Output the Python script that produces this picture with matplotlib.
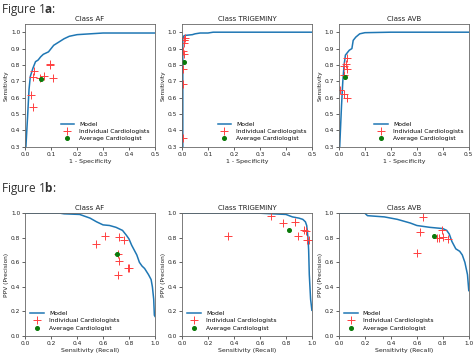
import matplotlib
matplotlib.use("Agg")
import matplotlib.pyplot as plt

# ---- data ----
classes = ["AF", "TRIGEMINY", "AVB"]

# ROC curves (1 - specificity, sensitivity)
roc_af_x = [0.0, 0.003, 0.01, 0.015, 0.02, 0.03, 0.04, 0.05, 0.06, 0.07, 0.09, 0.10, 0.11, 0.13, 0.15, 0.17, 0.20, 0.25, 0.30, 0.50]
roc_af_y = [0.25, 0.30, 0.50, 0.65, 0.73, 0.78, 0.82, 0.83, 0.85, 0.865, 0.88, 0.90, 0.92, 0.94, 0.96, 0.975, 0.985, 0.99, 0.995, 0.995]
roc_tri_x = [0.0, 0.003, 0.003, 0.006, 0.01, 0.04, 0.05, 0.07, 0.10, 0.12, 0.50]
roc_tri_y = [0.25, 0.30, 0.96, 0.975, 0.98, 0.985, 0.99, 0.995, 0.995, 1.0, 1.0]
roc_avb_x = [0.0, 0.003, 0.01, 0.015, 0.02, 0.025, 0.03, 0.04, 0.05, 0.055, 0.065, 0.08, 0.10, 0.20, 0.50]
roc_avb_y = [0.25, 0.30, 0.55, 0.70, 0.80, 0.86, 0.87, 0.89, 0.90, 0.95, 0.97, 0.99, 0.997, 1.0, 1.0]

# individual cardiologists, ROC space
card_af_fpr = [0.036, 0.032, 0.022, 0.031, 0.094, 0.097, 0.074, 0.109, 0.058]
card_af_sens = [0.766, 0.724, 0.614, 0.544, 0.805, 0.80, 0.73, 0.72, 0.72]
card_tri_fpr = [0.002, 0.003, 0.004, 0.006, 0.005, 0.008, 0.009, 0.007, 0.010]
card_tri_sens = [0.355, 0.685, 0.775, 0.865, 0.885, 0.935, 0.95, 0.955, 0.965]
card_avb_fpr = [0.033, 0.028, 0.019, 0.031, 0.019, 0.006, 0.018, 0.033]
card_avb_sens = [0.84, 0.804, 0.794, 0.773, 0.74, 0.65, 0.62, 0.596]

# average cardiologist, ROC space
avg_roc = {"AF": (0.062, 0.714), "TRIGEMINY": (0.006, 0.82), "AVB": (0.022, 0.729)}

# PR curves (recall, precision)
pr_af_x = [0.0, 0.27, 0.30, 0.42, 0.50, 0.55, 0.60, 0.65, 0.70, 0.75, 0.78, 0.80, 0.82, 0.84, 0.86, 0.88, 0.90, 0.92, 0.95, 0.97, 0.98, 0.99, 0.995, 1.0]
pr_af_y = [1.0, 1.0, 0.995, 0.99, 0.96, 0.93, 0.905, 0.90, 0.885, 0.86, 0.82, 0.79, 0.74, 0.70, 0.66, 0.60, 0.57, 0.55, 0.50, 0.46, 0.40, 0.30, 0.17, 0.16]
pr_tri_x = [0.0, 0.60, 0.70, 0.80, 0.85, 0.90, 0.93, 0.95, 0.96, 0.97, 0.975, 0.98, 0.985, 0.99, 1.0]
pr_tri_y = [1.0, 1.0, 0.995, 0.99, 0.97, 0.96, 0.95, 0.93, 0.90, 0.80, 0.70, 0.50, 0.40, 0.30, 0.21]
pr_avb_x = [0.0, 0.20, 0.22, 0.35, 0.45, 0.55, 0.60, 0.70, 0.80, 0.83, 0.85, 0.87, 0.90, 0.93, 0.95, 0.97, 0.99, 1.0]
pr_avb_y = [1.0, 1.0, 0.98, 0.97, 0.95, 0.92, 0.90, 0.885, 0.875, 0.86, 0.83, 0.77, 0.71, 0.69, 0.66, 0.60, 0.50, 0.37]

# individual cardiologists, PR space
card_af_rec = [0.544, 0.615, 0.72, 0.764, 0.713, 0.726, 0.797, 0.79, 0.718]
card_af_ppv = [0.75, 0.816, 0.81, 0.783, 0.67, 0.607, 0.558, 0.55, 0.496]
card_tri_rec = [0.356, 0.688, 0.778, 0.869, 0.894, 0.936, 0.959, 0.956, 0.974]
card_tri_ppv = [0.818, 0.976, 0.919, 0.927, 0.813, 0.867, 0.786, 0.856, 0.78]
card_avb_rec = [0.651, 0.626, 0.60, 0.79, 0.754, 0.774, 0.80, 0.841]
card_avb_ppv = [0.967, 0.846, 0.68, 0.867, 0.802, 0.80, 0.805, 0.79]

avg_pr = {"AF": (0.708, 0.67), "TRIGEMINY": (0.82, 0.862), "AVB": (0.731, 0.816)}

roc_curves = {"AF": (roc_af_x, roc_af_y), "TRIGEMINY": (roc_tri_x, roc_tri_y), "AVB": (roc_avb_x, roc_avb_y)}
roc_cards = {"AF": (card_af_fpr, card_af_sens), "TRIGEMINY": (card_tri_fpr, card_tri_sens), "AVB": (card_avb_fpr, card_avb_sens)}
pr_curves = {"AF": (pr_af_x, pr_af_y), "TRIGEMINY": (pr_tri_x, pr_tri_y), "AVB": (pr_avb_x, pr_avb_y)}
pr_cards = {"AF": (card_af_rec, card_af_ppv), "TRIGEMINY": (card_tri_rec, card_tri_ppv), "AVB": (card_avb_rec, card_avb_ppv)}

# ---- figure ----
plt.rcParams["font.family"] = ["DejaVu Sans"]
plt.rcParams["mathtext.fontset"] = "custom"
plt.rcParams["mathtext.rm"] = "Open Sans"
plt.rcParams["mathtext.bf"] = "Open Sans:bold"
fig = plt.figure(figsize=(4.74, 3.53), dpi=100)

lefts = [0.053, 0.384, 0.715]
w, h = 0.274, 0.348
line_col = "#1f77b4"
plus_col = "#ff4040"
dot_col = "#0a7a0a"
spine_col = "#666666"


def style(ax):
    for s in ax.spines.values():
        s.set_color(spine_col)
        s.set_linewidth(0.6)
    ax.tick_params(labelsize=4.2, length=2, width=0.5, pad=1.5, colors="#222222")


for i, c in enumerate(classes):
    # ROC row
    ax = fig.add_axes([lefts[i], 0.584, w, h])
    x, y = roc_curves[c]
    ax.plot(x, y, color=line_col, lw=1.1, label="Model")
    cx, cy = roc_cards[c]
    ax.plot(cx, cy, "+", color=plus_col, ms=6, mew=0.7, label="Individual Cardiologists")
    ax.plot(*avg_roc[c], "o", color=dot_col, ms=2.6, label="Average Cardiologist")
    ax.set_xlim(0, 0.5)
    ax.set_ylim(0.3, 1.05)
    ax.set_xticks([0, 0.1, 0.2, 0.3, 0.4, 0.5])
    ax.set_xticklabels(["0.0", "0.1", "0.2", "0.3", "0.4", "0.5"])
    ax.set_yticks([0.3, 0.4, 0.5, 0.6, 0.7, 0.8, 0.9, 1.0])
    ax.set_title("Class " + c, fontsize=5, pad=2.5, color="#222222")
    ax.set_xlabel("1 - Specificity", fontsize=4.5, labelpad=1.5, color="#222222")
    ax.set_ylabel("Sensitivity", fontsize=4.2, labelpad=1.5, color="#222222")
    style(ax)
    ax.legend(loc="lower right", fontsize=4.3, frameon=False, handlelength=2.3,
              borderaxespad=0.5, labelspacing=0.35, handletextpad=0.8)

    # PR row
    ax = fig.add_axes([lefts[i], 0.048, w, h])
    x, y = pr_curves[c]
    ax.plot(x, y, color=line_col, lw=1.1, label="Model")
    cx, cy = pr_cards[c]
    ax.plot(cx, cy, "+", color=plus_col, ms=6, mew=0.7, label="Individual Cardiologists")
    ax.plot(*avg_pr[c], "o", color=dot_col, ms=2.6, label="Average Cardiologist")
    ax.set_xlim(0, 1.0)
    ax.set_ylim(0, 1.0)
    ax.set_xticks([0, 0.2, 0.4, 0.6, 0.8, 1.0])
    ax.set_yticks([0, 0.2, 0.4, 0.6, 0.8, 1.0])
    ax.set_title("Class " + c, fontsize=5, pad=2.5, color="#222222")
    ax.set_xlabel("Sensitivity (Recall)", fontsize=4.5, labelpad=1.5, color="#222222")
    ax.set_ylabel("PPV (Precision)", fontsize=4.2, labelpad=1.5, color="#222222")
    style(ax)
    ax.legend(loc="lower left", fontsize=4.3, frameon=False, handlelength=2.3,
              borderaxespad=0.5, labelspacing=0.35, handletextpad=0.8)

fig.text(0.002, 0.995, r"Figure 1$\mathbf{a}$:", fontsize=8.5, color="#333333",
         va="top", family="Open Sans")
fig.text(0.002, 0.49, r"Figure 1$\mathbf{b}$:", fontsize=8.5, color="#333333",
         va="top", family="Open Sans")

fig.savefig("out.png", dpi=100)
